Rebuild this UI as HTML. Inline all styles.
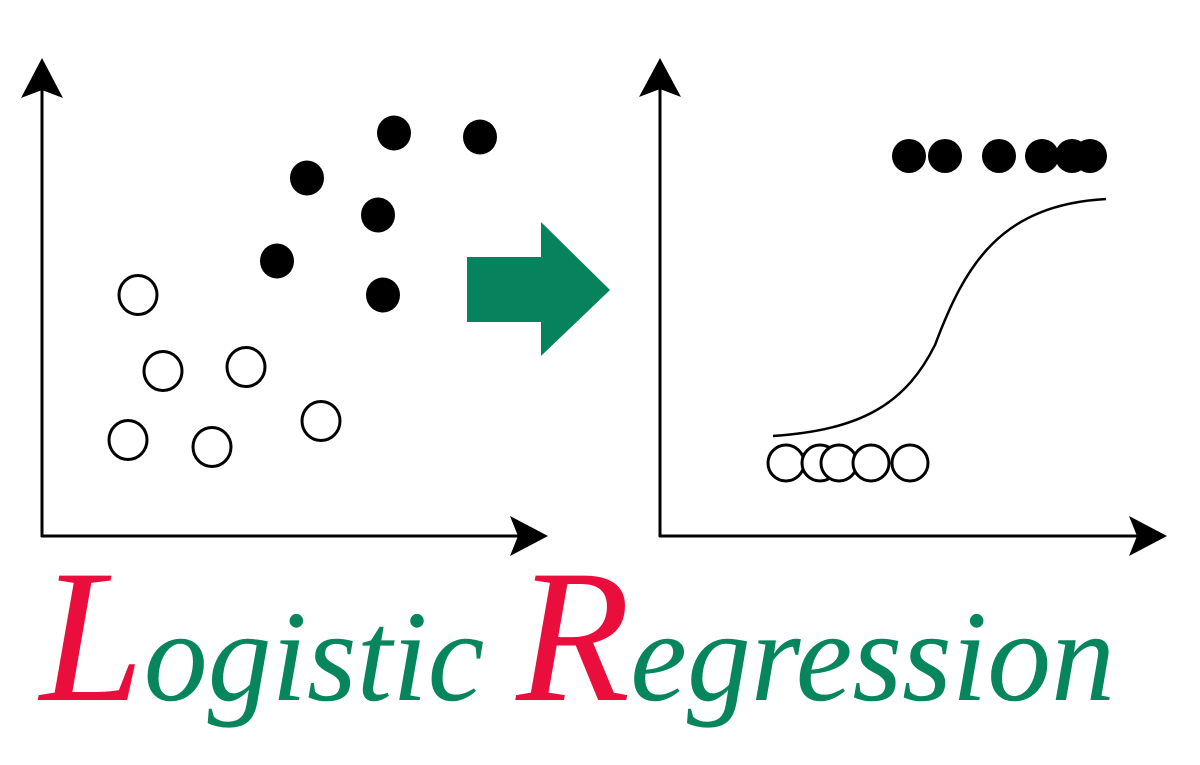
<!DOCTYPE html>
<html><head><meta charset="utf-8"><style>
html,body{margin:0;padding:0;background:#fff;}
svg{display:block;}
</style></head><body>
<svg width="1200" height="765" viewBox="0 0 1200 765" xmlns="http://www.w3.org/2000/svg">
<rect width="1200" height="765" fill="#fff"/>
<!-- left axes -->
<g stroke="#000" stroke-width="3" fill="none">
<line x1="42" y1="80" x2="42" y2="537"/>
<line x1="41" y1="536" x2="525" y2="536"/>
<line x1="660" y1="80" x2="660" y2="537"/>
<line x1="659" y1="536" x2="1145" y2="536"/>
</g>
<g fill="#000">
<path d="M42 58 L63 98 L42 90 L21 98 Z"/>
<path d="M548 536 L510 516 L518 536 L510 556 Z"/>
<path d="M660 58 L681 97 L660 89 L639 97 Z"/>
<path d="M1167 536 L1129 516 L1137 536 L1129 556 Z"/>
</g>
<!-- left filled -->
<g fill="#000">
<ellipse cx="394" cy="133" rx="17" ry="17.5"/>
<ellipse cx="480" cy="137" rx="17" ry="17.5"/>
<ellipse cx="307" cy="178" rx="17" ry="17.5"/>
<ellipse cx="378" cy="215" rx="17" ry="17.5"/>
<ellipse cx="277" cy="261" rx="17" ry="17.5"/>
<ellipse cx="383" cy="295" rx="17" ry="17.5"/>
</g>
<g fill="none" stroke="#000" stroke-width="3">
<ellipse cx="138" cy="295" rx="19" ry="19.5"/>
<ellipse cx="163" cy="371" rx="19" ry="19.5"/>
<ellipse cx="246" cy="367" rx="19" ry="19.5"/>
<ellipse cx="128" cy="440" rx="19" ry="19.5"/>
<ellipse cx="212" cy="447" rx="19" ry="19.5"/>
<ellipse cx="321" cy="421" rx="19" ry="19.5"/>
</g>
<!-- green arrow -->
<path d="M467 257 L541 257 L541 222 L610 290 L541 356 L541 322 L467 322 Z" fill="#06835c"/>
<!-- right panel -->
<g fill="#000">
<circle cx="909" cy="156" r="17"/>
<circle cx="945" cy="156" r="17"/>
<circle cx="999" cy="156" r="17"/>
<circle cx="1042" cy="156" r="17"/>
<circle cx="1072" cy="156" r="17"/>
<circle cx="1090" cy="156" r="17"/>
</g>
<path d="M773 436 C860 430 905 405 935 345 C965 265 1000 205 1106 199" fill="none" stroke="#000" stroke-width="2.5"/>
<g fill="#fff" stroke="#000" stroke-width="3">
<circle cx="786" cy="463" r="18"/>
<circle cx="820" cy="463" r="18"/>
<circle cx="839" cy="463" r="18"/>
<circle cx="871" cy="463" r="18"/>
<circle cx="910" cy="463" r="18"/>
</g>
<!-- title -->
<text x="40" y="700" font-family="Liberation Serif, serif" font-style="italic" font-size="130" fill="#07855d" textLength="1075" lengthAdjust="spacingAndGlyphs"><tspan fill="#ea0e3d" font-size="190">L</tspan>ogistic <tspan fill="#ea0e3d" font-size="190">R</tspan>egression</text>
</svg>
</body></html>
